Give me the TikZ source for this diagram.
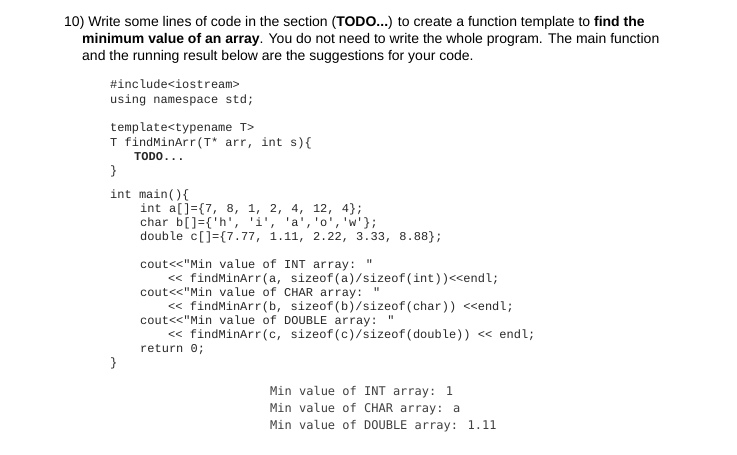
\documentclass[tikz,border=0pt]{standalone}
\usepackage{fontspec}
\setmainfont{Liberation Sans}
\newfontfamily\cmono[Ligatures=TeXOff]{Liberation Mono}
\newfontfamily\omono[Ligatures=TeXOff]{DejaVu Sans Mono}
\begin{document}
\begin{tikzpicture}[x=1pt,y=-1pt,
  head/.style={anchor=base west,inner sep=0pt,font=\fontsize{14}{16}\selectfont},
  code/.style={anchor=base west,inner sep=0pt,text=black!85,font=\cmono\fontsize{12}{13}\selectfont},
  outp/.style={anchor=base west,inner sep=0pt,text=black!75,font=\omono\fontsize{12}{14}\selectfont}]
\useasboundingbox (0,0) rectangle (737,455);
\node[head] (h1) at (64,26) {10) Write some lines of code in the section (\textbf{TODO...}) to create a function template to \textbf{find the}};
\node[head] (h2) at (82,43) {\textbf{minimum value of an array}. You do not need to write the whole program. The main function};
\node[head] (h3) at (82,60) {and the running result below are the suggestions for your code.};
\node[code] (c1) at (110,88) {\#include<iostream>};
\node[code] (c2) at (110,103) {using namespace std;};
\node[code] (c3) at (110,131) {template<typename T>};
\node[code] (c4) at (110,146) {T findMinArr(T* arr, int s)\{};
\node[code] (c5) at (134,160) {\textbf{TODO...}};
\node[code] (c6) at (110,174) {\}};
\node[code] (c7) at (110,198) {int main()\{};
\node[code] (c8) at (140,212) {int a[]=\{7, 8, 1, 2, 4, 12, 4\};};
\node[code] (c9) at (140,226) {char b[]=\{'h', 'i', 'a','o','w'\};};
\node[code] (c10) at (140,240) {double c[]=\{7.77, 1.11, 2.22, 3.33, 8.88\};};
\node[code] (c11) at (140,268) {cout<<"Min value of INT array: "};
\node[code] (c12) at (168,282) {<< findMinArr(a, sizeof(a)/sizeof(int))<<endl;};
\node[code] (c13) at (140,296) {cout<<"Min value of CHAR array: "};
\node[code] (c14) at (168,310) {<< findMinArr(b, sizeof(b)/sizeof(char)) <<endl;};
\node[code] (c15) at (140,324) {cout<<"Min value of DOUBLE array: "};
\node[code] (c16) at (168,338) {<< findMinArr(c, sizeof(c)/sizeof(double)) << endl;};
\node[code] (c17) at (140,352) {return 0;};
\node[code] (c18) at (110,366) {\}};
\node[outp] (o1) at (270,395) {Min value of INT array: 1};
\node[outp] (o2) at (270,412) {Min value of CHAR array: a};
\node[outp] (o3) at (270,429) {Min value of DOUBLE array: 1.11};
\end{tikzpicture}
\end{document}
